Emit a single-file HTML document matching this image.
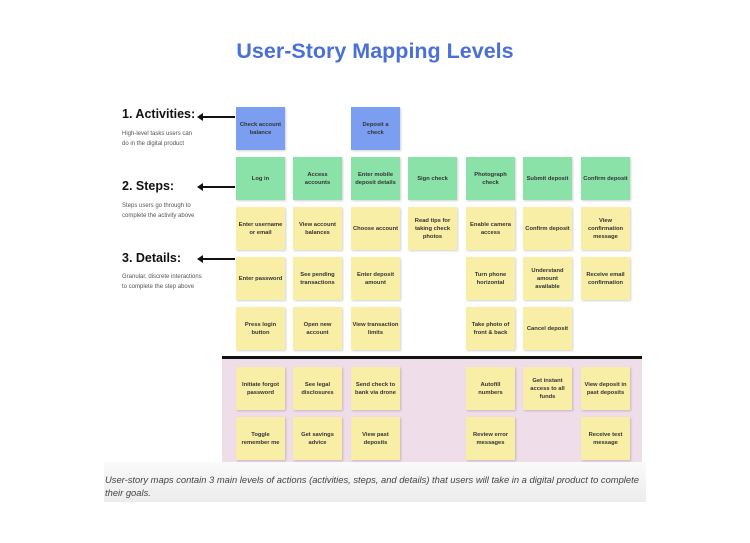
<!DOCTYPE html>
<html><head><meta charset="utf-8"><style>
body{margin:0;width:750px;height:543px;background:#fff;position:relative;overflow:hidden;font-family:"Liberation Sans",sans-serif}
.t{position:absolute;left:0;width:750px;top:39px;text-align:center;color:#4a6fd8;font-size:21.5px;font-weight:bold}
.n{position:absolute;width:49px;height:43px;display:flex;align-items:center;justify-content:center;text-align:center;font-size:5.8px;font-weight:bold;color:#333;line-height:8px;box-shadow:1px 1px 2px rgba(0,0,0,.18)}
.a{background:#7b9ef0}.s{background:#8be2a8}.d{background:#f9eea6}
.h{position:absolute;left:122px;font-size:12.5px;font-weight:bold;color:#111}
.p{position:absolute;left:122px;font-size:6px;color:#555;line-height:10px}
.ar{position:absolute;left:199px;width:36px;height:2px;background:#111}
.ar:before{content:"";position:absolute;left:-2px;top:-3px;border-right:6px solid #111;border-top:4px solid transparent;border-bottom:4px solid transparent}
</style></head><body>
<div class="t">User-Story Mapping Levels</div>
<div style="position:absolute;left:222px;top:359px;width:420px;height:103px;background:#efdde9"></div>
<div style="position:absolute;left:222px;top:356px;width:420px;height:3px;background:#111"></div>
<div style="position:absolute;left:104px;top:462px;width:542px;height:40px;background:linear-gradient(#fafafa,#ececec)"></div>
<div style="position:absolute;left:105px;top:473px;width:560px;font-style:italic;font-size:9.4px;color:#444;line-height:13px">User-story maps contain 3 main levels of actions (activities, steps, and details) that users will take in a digital product to complete<br>their goals.</div>

<div class="h" style="top:107px">1. Activities:</div>
<div class="p" style="top:129px">High-level tasks users can<br>do in the digital product</div>
<div class="h" style="top:179px">2. Steps:</div>
<div class="p" style="top:201px">Steps users go through to<br>complete the activity above</div>
<div class="h" style="top:251px">3. Details:</div>
<div class="p" style="top:272px">Granular, discrete interactions<br>to complete the step above</div>
<div class="ar" style="top:116px"></div>
<div class="ar" style="top:186px"></div>
<div class="ar" style="top:258px"></div>

<div class="n a" style="left:236px;top:107px">Check account<br>balance</div>
<div class="n a" style="left:351px;top:107px">Deposit a<br>check</div>

<div class="n s" style="left:236px;top:157px">Log in</div>
<div class="n s" style="left:293px;top:157px">Access<br>accounts</div>
<div class="n s" style="left:351px;top:157px">Enter mobile<br>deposit details</div>
<div class="n s" style="left:408px;top:157px">Sign check</div>
<div class="n s" style="left:466px;top:157px">Photograph<br>check</div>
<div class="n s" style="left:523px;top:157px">Submit deposit</div>
<div class="n s" style="left:581px;top:157px">Confirm deposit</div>

<div class="n d" style="left:236px;top:207px">Enter username<br>or email</div>
<div class="n d" style="left:293px;top:207px">View account<br>balances</div>
<div class="n d" style="left:351px;top:207px">Choose account</div>
<div class="n d" style="left:408px;top:207px">Read tips for<br>taking check<br>photos</div>
<div class="n d" style="left:466px;top:207px">Enable camera<br>access</div>
<div class="n d" style="left:523px;top:207px">Confirm deposit</div>
<div class="n d" style="left:581px;top:207px">View confirmation<br>message</div>

<div class="n d" style="left:236px;top:257px">Enter password</div>
<div class="n d" style="left:293px;top:257px">See pending<br>transactions</div>
<div class="n d" style="left:351px;top:257px">Enter deposit<br>amount</div>
<div class="n d" style="left:466px;top:257px">Turn phone<br>horizontal</div>
<div class="n d" style="left:523px;top:257px">Understand<br>amount<br>available</div>
<div class="n d" style="left:581px;top:257px">Receive email<br>confirmation</div>

<div class="n d" style="left:236px;top:307px">Press login<br>button</div>
<div class="n d" style="left:293px;top:307px">Open new<br>account</div>
<div class="n d" style="left:351px;top:307px">View transaction<br>limits</div>
<div class="n d" style="left:466px;top:307px">Take photo of<br>front &amp; back</div>
<div class="n d" style="left:523px;top:307px">Cancel deposit</div>

<div class="n d" style="left:236px;top:367px">Initiate forgot<br>password</div>
<div class="n d" style="left:293px;top:367px">See legal<br>disclosures</div>
<div class="n d" style="left:351px;top:367px">Send check to<br>bank via drone</div>
<div class="n d" style="left:466px;top:367px">Autofill<br>numbers</div>
<div class="n d" style="left:523px;top:367px">Get instant<br>access to all<br>funds</div>
<div class="n d" style="left:581px;top:367px">View deposit in<br>past deposits</div>

<div class="n d" style="left:236px;top:417px">Toggle<br>remember me</div>
<div class="n d" style="left:293px;top:417px">Get savings<br>advice</div>
<div class="n d" style="left:351px;top:417px">View past<br>deposits</div>
<div class="n d" style="left:466px;top:417px">Review error<br>messages</div>
<div class="n d" style="left:581px;top:417px">Receive text<br>message</div>
</body></html>
